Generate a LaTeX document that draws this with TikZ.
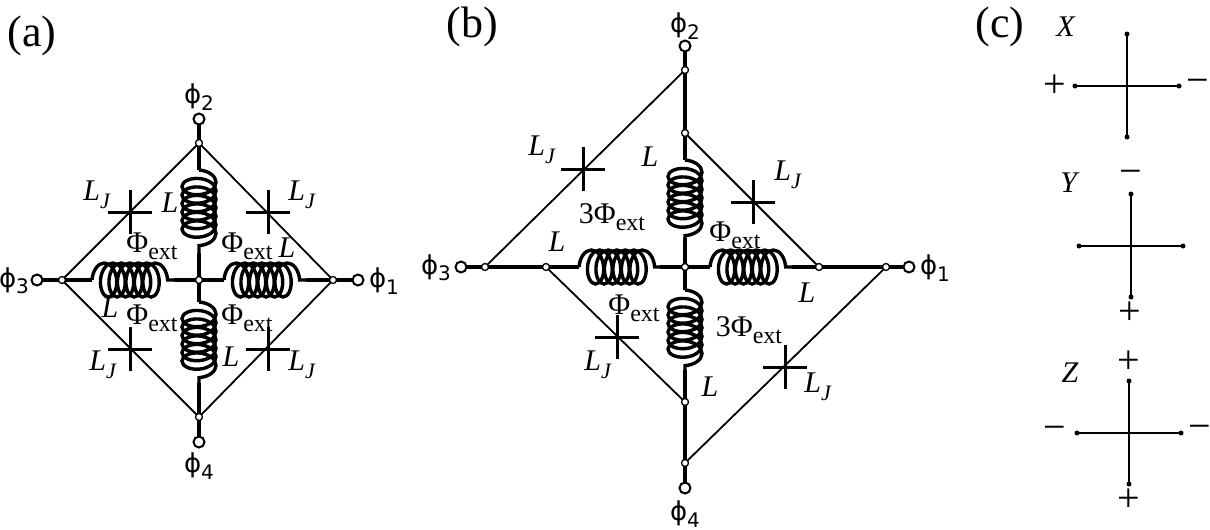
\documentclass[tikz,border=0pt]{standalone}
\usepackage{fontspec}
\setmainfont{Liberation Serif}
\newfontfamily\phifont{DejaVu Sans}
\usetikzlibrary{decorations.pathmorphing}
\newcommand{\ph}[1]{{\phifont ϕ\raisebox{-0.25em}{\fontsize{20}{20}\selectfont #1}}}
\newcommand{\LJ}{\textit{L}\raisebox{-0.25em}{\fontsize{22}{22}\selectfont\textit{J}}}
\newcommand{\Fx}[1]{#1Φ\raisebox{-0.22em}{\fontsize{24}{24}\selectfont ext}}
\begin{document}
\begin{tikzpicture}[x=1pt,y=-1pt,
  arm/.style={line width=3.6pt},
  diag/.style={line width=1.8pt},
  coilst/.style={line width=3.4pt,decorate,decoration={coil,amplitude=17pt,segment length=8.5pt,aspect=0.6}},
  term/.style={circle,draw,line width=2pt,fill=white,inner sep=0pt,minimum size=11pt},
  junc/.style={circle,draw,line width=1.3pt,fill=white,inner sep=0pt,minimum size=7pt},
  jj/.style={line width=3pt},
  lab/.style={font=\fontsize{30}{32}\selectfont,inner sep=0pt},
  pm/.style={font=\fontsize{40}{40}\selectfont,inner sep=0pt},
  phl/.style={font=\fontsize{26}{28}\selectfont,inner sep=0pt},
  plab/.style={font=\fontsize{44}{46}\selectfont,inner sep=0pt},
  dotc/.style={circle,fill,inner sep=0pt,minimum size=5pt},
  cl/.style={line width=1.8pt}]
\useasboundingbox (0,0) rectangle (1210,530);
% ---------- (a) ----------
\node[plab] (pa) at (32,36) {(a)};
\coordinate (ac) at (199,280);
\coordinate (aT) at (199,143); \coordinate (aB) at (199,417);
\coordinate (aL) at (62,280);  \coordinate (aR) at (333,280);
\draw[diag] (aT)--(aR)--(aB)--(aL)--cycle;
\draw[arm] (199,119)--(aT)--(199,170) (199,253)--(ac)--(199,302) (199,383)--(aB)--(199,442);
\draw[arm] (37,280)--(aL)--(92,280) (174,280)--(ac)--(224,280) (306,280)--(aR)--(358,280);
\draw[coilst] (199,170)--(199,253);
\draw[coilst] (199,302)--(199,383);
\draw[coilst] (92,280)--(174,280);
\draw[coilst] (224,280)--(306,280);
\foreach \n/\p in {aT/aT,aB/aB,aL/aL,aR/aR,ac/ac} \node[junc] (j\n) at (\p) {};
\node[term] (a2) at (199,119) {}; \node[term] (a4) at (199,442) {};
\node[term] (a3) at (37,280) {};  \node[term] (a1) at (358,280) {};
\foreach \c in {(130,212),(268,212),(130,349),(268,349)}
  \draw[jj] \c ++(-22,0) -- ++(44,0) \c ++(0,-22) -- ++(0,44);
\node[phl] (pa2) at (199,97) {\ph2};
\node[phl] (pa4) at (199,466) {\ph4};
\node[phl] (pa3) at (14,281) {\ph3};
\node[phl] (pa1) at (384,281) {\ph1};
\node[lab] at (97,195) {\LJ}; \node[lab] at (302,195) {\LJ};
\node[lab] at (103,365) {\LJ}; \node[lab] at (302,365) {\LJ};
\node[lab] at (170,203) {\textit{L}}; \node[lab] at (287,248) {\textit{L}};
\node[lab] at (110,308) {\textit{L}}; \node[lab] at (231,357) {\textit{L}};
\node[lab] at (152,246) {\Fx{}}; \node[lab] at (247,246) {\Fx{}};
\node[lab] at (152,318) {\Fx{}}; \node[lab] at (247,318) {\Fx{}};
% ---------- (b) ----------
\node[plab] (pb) at (472,27) {(b)};
\coordinate (bc) at (685,267);
\coordinate (bT1) at (685,70); \coordinate (bT2) at (685,133);
\coordinate (bB1) at (685,402); \coordinate (bB2) at (685,463);
\coordinate (bL1) at (485,267); \coordinate (bL2) at (546,267);
\coordinate (bR1) at (819,267); \coordinate (bR2) at (886,267);
\draw[diag] (bL1)--(bT1) (bT2)--(bR1) (bL2)--(bB1) (bR2)--(bB2);
\draw[arm] (685,46)--(bT1)--(bT2)--(685,160) (685,238)--(bc)--(685,290) (685,370)--(bB1)--(bB2)--(685,488);
\draw[arm] (461,267)--(bL1)--(bL2)--(579,267) (660,267)--(bc)--(710,267) (792,267)--(bR1)--(bR2)--(909,267);
\draw[coilst] (685,160)--(685,238);
\draw[coilst] (685,290)--(685,370);
\draw[coilst] (579,267)--(660,267);
\draw[coilst] (710,267)--(792,267);
\foreach \n in {bT1,bT2,bB1,bB2,bL1,bL2,bR1,bR2,bc} \node[junc] (j\n) at (\n) {};
\node[term] (b2) at (685,46) {}; \node[term] (b4) at (685,488) {};
\node[term] (b3) at (461,267) {}; \node[term] (b1) at (909,267) {};
\foreach \c in {(583,169),(753,202),(617,337),(785,367)}
  \draw[jj] \c ++(-22,0) -- ++(44,0) \c ++(0,-22) -- ++(0,44);
\node[phl] at (685,26) {\ph2};
\node[phl] at (685,514) {\ph4};
\node[phl] at (436,268) {\ph3};
\node[phl] at (935,268) {\ph1};
\node[lab] at (542,150) {\LJ}; \node[lab] at (788,175) {\LJ};
\node[lab] at (598,365) {\LJ}; \node[lab] at (818,387) {\LJ};
\node[lab] at (650,157) {\textit{L}}; \node[lab] at (557,242) {\textit{L}};
\node[lab] at (807,293) {\textit{L}}; \node[lab] at (710,387) {\textit{L}};
\node[lab] at (612,217) {\Fx{3}}; \node[lab] at (735,235) {\Fx{}};
\node[lab] at (634,308) {\Fx{}}; \node[lab] at (749,330) {\Fx{3}};
% ---------- (c) ----------
\node[plab] (pc) at (1000,27) {(c)};
\foreach \cx/\cy/\nm in {1127/86/X,1131/246/Y,1129/433/Z}{
  \coordinate (\nm t) at (\cx,\cy-52); \coordinate (\nm b) at (\cx,\cy+51);
  \coordinate (\nm l) at (\cx-52,\cy); \coordinate (\nm r) at (\cx+52,\cy);
  \draw[cl] (\nm t)--(\nm b) (\nm l)--(\nm r);
  \foreach \e in {t,b,l,r} \node[dotc] at (\nm\e) {};
}
\node[lab] at (1066,27) {\textit{X}};
\node[lab] at (1070,183) {\textit{Y}};
\node[lab] at (1070,373) {\textit{Z}};
\node[pm] at (1055,86) {+}; \node[pm] at (1198,86) {−};
\node[pm] at (1131,177) {−}; \node[pm] at (1130,313) {+};
\node[pm] at (1129,362) {+}; \node[pm] at (1129,500) {+};
\node[pm] at (1055,433) {−}; \node[pm] at (1200,432) {−};
\end{tikzpicture}
\end{document}
